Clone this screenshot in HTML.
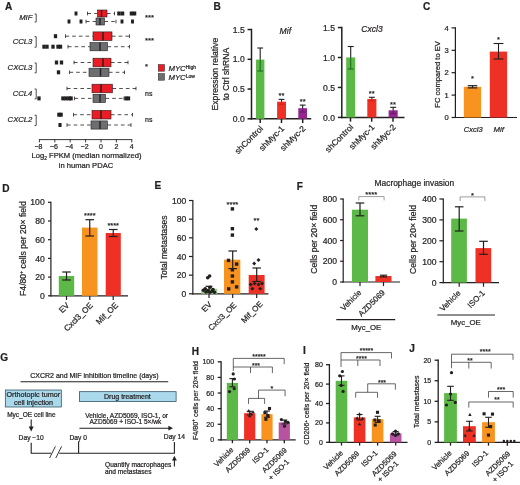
<!DOCTYPE html>
<html lang="en">
<head>
<meta charset="utf-8">
<title>Figure</title>
<style>
html,body{margin:0;padding:0;background:#fff;}
body{width:520px;height:485px;overflow:hidden;}
svg{display:block;font-family:"Liberation Sans",sans-serif;}
text{stroke:#231f20;stroke-width:0.22px;}
</style>
</head>
<body>
<svg width="520" height="485" viewBox="0 0 520 485">
<rect x="0" y="0" width="520" height="485" fill="#ffffff"/>
<g id="panelA">
<text x="5.10" y="9.75" font-size="10.1" font-weight="bold" fill="#231f20">A</text>
<text x="32.40" y="20.20" font-size="7.7" text-anchor="end" font-style="italic" fill="#231f20">MIF</text>
<polyline points="34.60,14.00 36.20,14.00 36.20,22.00 34.60,22.00" fill="none" stroke="#231f20" stroke-width="0.8"/>
<line x1="87.50" y1="13.50" x2="97.50" y2="13.50" stroke="#231f20" stroke-width="0.8" stroke-dasharray="3.6 3.1"/>
<line x1="107.00" y1="13.50" x2="114.50" y2="13.50" stroke="#231f20" stroke-width="0.8" stroke-dasharray="3.6 3.1"/>
<line x1="87.50" y1="11.70" x2="87.50" y2="15.30" stroke="#231f20" stroke-width="0.8"/>
<line x1="114.50" y1="11.70" x2="114.50" y2="15.30" stroke="#231f20" stroke-width="0.8"/>
<rect x="97.50" y="10.00" width="9.50" height="7.00" fill="#ed1c24" stroke="#231f20" stroke-width="0.6"/>
<line x1="101.50" y1="10.00" x2="101.50" y2="17.00" stroke="#231f20" stroke-width="1.4"/>
<rect x="74.55" y="11.50" width="2.90" height="4.00" fill="#231f20"/>
<rect x="117.25" y="11.50" width="3.50" height="4.00" fill="#231f20"/>
<rect x="120.75" y="11.50" width="3.50" height="4.00" fill="#231f20"/>
<rect x="129.75" y="11.50" width="3.50" height="4.00" fill="#231f20"/>
<rect x="132.75" y="11.50" width="3.50" height="4.00" fill="#231f20"/>
<line x1="86.00" y1="21.50" x2="96.00" y2="21.50" stroke="#231f20" stroke-width="0.8" stroke-dasharray="3.6 3.1"/>
<line x1="104.50" y1="21.50" x2="116.00" y2="21.50" stroke="#231f20" stroke-width="0.8" stroke-dasharray="3.6 3.1"/>
<line x1="86.00" y1="19.70" x2="86.00" y2="23.30" stroke="#231f20" stroke-width="0.8"/>
<line x1="116.00" y1="19.70" x2="116.00" y2="23.30" stroke="#231f20" stroke-width="0.8"/>
<rect x="96.00" y="18.00" width="8.50" height="7.00" fill="#6d6e71" stroke="#231f20" stroke-width="0.6"/>
<line x1="100.00" y1="18.00" x2="100.00" y2="25.00" stroke="#231f20" stroke-width="1.4"/>
<rect x="67.55" y="19.50" width="2.90" height="4.00" fill="#231f20"/>
<rect x="79.55" y="19.50" width="2.90" height="4.00" fill="#231f20"/>
<rect x="120.55" y="19.50" width="2.90" height="4.00" fill="#231f20"/>
<rect x="131.05" y="19.50" width="2.90" height="4.00" fill="#231f20"/>
<text x="32.40" y="43.70" font-size="7.7" text-anchor="end" font-style="italic" fill="#231f20">CCL3</text>
<polyline points="34.60,36.70 36.20,36.70 36.20,47.20 34.60,47.20" fill="none" stroke="#231f20" stroke-width="0.8"/>
<line x1="65.50" y1="36.20" x2="93.00" y2="36.20" stroke="#231f20" stroke-width="0.8" stroke-dasharray="3.6 3.1"/>
<line x1="112.00" y1="36.20" x2="129.50" y2="36.20" stroke="#231f20" stroke-width="0.8" stroke-dasharray="3.6 3.1"/>
<line x1="65.50" y1="34.40" x2="65.50" y2="38.00" stroke="#231f20" stroke-width="0.8"/>
<line x1="129.50" y1="34.40" x2="129.50" y2="38.00" stroke="#231f20" stroke-width="0.8"/>
<rect x="93.00" y="31.90" width="19.00" height="8.60" fill="#ed1c24" stroke="#231f20" stroke-width="0.6"/>
<line x1="103.00" y1="31.90" x2="103.00" y2="40.50" stroke="#231f20" stroke-width="1.4"/>
<rect x="53.85" y="34.20" width="3.30" height="4.00" fill="#231f20"/>
<line x1="68.00" y1="46.70" x2="90.00" y2="46.70" stroke="#231f20" stroke-width="0.8" stroke-dasharray="3.6 3.1"/>
<line x1="107.50" y1="46.70" x2="129.50" y2="46.70" stroke="#231f20" stroke-width="0.8" stroke-dasharray="3.6 3.1"/>
<line x1="68.00" y1="44.90" x2="68.00" y2="48.50" stroke="#231f20" stroke-width="0.8"/>
<line x1="129.50" y1="44.90" x2="129.50" y2="48.50" stroke="#231f20" stroke-width="0.8"/>
<rect x="90.00" y="42.60" width="17.50" height="8.20" fill="#6d6e71" stroke="#231f20" stroke-width="0.6"/>
<line x1="100.00" y1="42.60" x2="100.00" y2="50.80" stroke="#231f20" stroke-width="1.4"/>
<rect x="42.35" y="44.70" width="3.30" height="4.00" fill="#231f20"/>
<rect x="45.35" y="44.70" width="3.30" height="4.00" fill="#231f20"/>
<rect x="51.35" y="44.70" width="3.30" height="4.00" fill="#231f20"/>
<rect x="56.35" y="44.70" width="3.30" height="4.00" fill="#231f20"/>
<rect x="58.85" y="44.70" width="3.30" height="4.00" fill="#231f20"/>
<text x="32.40" y="69.70" font-size="7.7" text-anchor="end" font-style="italic" fill="#231f20">CXCL3</text>
<polyline points="34.60,63.00 36.20,63.00 36.20,72.80 34.60,72.80" fill="none" stroke="#231f20" stroke-width="0.8"/>
<line x1="74.00" y1="62.50" x2="93.00" y2="62.50" stroke="#231f20" stroke-width="0.8" stroke-dasharray="3.6 3.1"/>
<line x1="111.00" y1="62.50" x2="128.00" y2="62.50" stroke="#231f20" stroke-width="0.8" stroke-dasharray="3.6 3.1"/>
<line x1="74.00" y1="60.70" x2="74.00" y2="64.30" stroke="#231f20" stroke-width="0.8"/>
<line x1="128.00" y1="60.70" x2="128.00" y2="64.30" stroke="#231f20" stroke-width="0.8"/>
<rect x="93.00" y="58.20" width="18.00" height="8.60" fill="#ed1c24" stroke="#231f20" stroke-width="0.6"/>
<line x1="103.00" y1="58.20" x2="103.00" y2="66.80" stroke="#231f20" stroke-width="1.4"/>
<rect x="54.85" y="60.50" width="3.30" height="4.00" fill="#231f20"/>
<rect x="59.85" y="60.50" width="3.30" height="4.00" fill="#231f20"/>
<line x1="69.50" y1="72.30" x2="89.00" y2="72.30" stroke="#231f20" stroke-width="0.8" stroke-dasharray="3.6 3.1"/>
<line x1="109.00" y1="72.30" x2="124.50" y2="72.30" stroke="#231f20" stroke-width="0.8" stroke-dasharray="3.6 3.1"/>
<line x1="69.50" y1="70.50" x2="69.50" y2="74.10" stroke="#231f20" stroke-width="0.8"/>
<line x1="124.50" y1="70.50" x2="124.50" y2="74.10" stroke="#231f20" stroke-width="0.8"/>
<rect x="89.00" y="68.20" width="20.00" height="8.20" fill="#6d6e71" stroke="#231f20" stroke-width="0.6"/>
<line x1="100.50" y1="68.20" x2="100.50" y2="76.40" stroke="#231f20" stroke-width="1.4"/>
<rect x="56.85" y="70.30" width="3.30" height="4.00" fill="#231f20"/>
<text x="32.40" y="96.20" font-size="7.7" text-anchor="end" font-style="italic" fill="#231f20">CCL4</text>
<polyline points="34.60,89.00 36.20,89.00 36.20,98.90 34.60,98.90" fill="none" stroke="#231f20" stroke-width="0.8"/>
<line x1="67.00" y1="88.50" x2="92.00" y2="88.50" stroke="#231f20" stroke-width="0.8" stroke-dasharray="3.6 3.1"/>
<line x1="112.50" y1="88.50" x2="136.00" y2="88.50" stroke="#231f20" stroke-width="0.8" stroke-dasharray="3.6 3.1"/>
<line x1="67.00" y1="86.70" x2="67.00" y2="90.30" stroke="#231f20" stroke-width="0.8"/>
<line x1="136.00" y1="86.70" x2="136.00" y2="90.30" stroke="#231f20" stroke-width="0.8"/>
<rect x="92.00" y="84.20" width="20.50" height="8.60" fill="#ed1c24" stroke="#231f20" stroke-width="0.6"/>
<line x1="101.00" y1="84.20" x2="101.00" y2="92.80" stroke="#231f20" stroke-width="1.4"/>
<line x1="74.50" y1="98.40" x2="93.00" y2="98.40" stroke="#231f20" stroke-width="0.8" stroke-dasharray="3.6 3.1"/>
<line x1="105.50" y1="98.40" x2="124.00" y2="98.40" stroke="#231f20" stroke-width="0.8" stroke-dasharray="3.6 3.1"/>
<line x1="74.50" y1="96.60" x2="74.50" y2="100.20" stroke="#231f20" stroke-width="0.8"/>
<line x1="124.00" y1="96.60" x2="124.00" y2="100.20" stroke="#231f20" stroke-width="0.8"/>
<rect x="93.00" y="94.30" width="12.50" height="8.20" fill="#6d6e71" stroke="#231f20" stroke-width="0.6"/>
<line x1="100.00" y1="94.30" x2="100.00" y2="102.50" stroke="#231f20" stroke-width="1.4"/>
<rect x="37.35" y="96.40" width="3.30" height="4.00" fill="#231f20"/>
<rect x="61.25" y="96.40" width="3.50" height="4.00" fill="#231f20"/>
<rect x="64.25" y="96.40" width="3.50" height="4.00" fill="#231f20"/>
<rect x="67.25" y="96.40" width="3.50" height="4.00" fill="#231f20"/>
<rect x="69.25" y="96.40" width="3.50" height="4.00" fill="#231f20"/>
<rect x="124.35" y="96.40" width="3.30" height="4.00" fill="#231f20"/>
<rect x="126.85" y="96.40" width="3.30" height="4.00" fill="#231f20"/>
<text x="32.40" y="122.20" font-size="7.7" text-anchor="end" font-style="italic" fill="#231f20">CXCL2</text>
<polyline points="34.60,115.20 36.20,115.20 36.20,125.50 34.60,125.50" fill="none" stroke="#231f20" stroke-width="0.8"/>
<line x1="73.50" y1="114.70" x2="92.00" y2="114.70" stroke="#231f20" stroke-width="0.8" stroke-dasharray="3.6 3.1"/>
<line x1="111.00" y1="114.70" x2="132.50" y2="114.70" stroke="#231f20" stroke-width="0.8" stroke-dasharray="3.6 3.1"/>
<line x1="73.50" y1="112.90" x2="73.50" y2="116.50" stroke="#231f20" stroke-width="0.8"/>
<line x1="132.50" y1="112.90" x2="132.50" y2="116.50" stroke="#231f20" stroke-width="0.8"/>
<rect x="92.00" y="110.40" width="19.00" height="8.60" fill="#ed1c24" stroke="#231f20" stroke-width="0.6"/>
<line x1="101.00" y1="110.40" x2="101.00" y2="119.00" stroke="#231f20" stroke-width="1.4"/>
<rect x="57.25" y="112.70" width="3.50" height="4.00" fill="#231f20"/>
<rect x="59.25" y="112.70" width="3.50" height="4.00" fill="#231f20"/>
<line x1="67.00" y1="125.00" x2="91.00" y2="125.00" stroke="#231f20" stroke-width="0.8" stroke-dasharray="3.6 3.1"/>
<line x1="107.50" y1="125.00" x2="131.00" y2="125.00" stroke="#231f20" stroke-width="0.8" stroke-dasharray="3.6 3.1"/>
<line x1="67.00" y1="123.20" x2="67.00" y2="126.80" stroke="#231f20" stroke-width="0.8"/>
<line x1="131.00" y1="123.20" x2="131.00" y2="126.80" stroke="#231f20" stroke-width="0.8"/>
<rect x="91.00" y="120.90" width="16.50" height="8.20" fill="#6d6e71" stroke="#231f20" stroke-width="0.6"/>
<line x1="100.00" y1="120.90" x2="100.00" y2="129.10" stroke="#231f20" stroke-width="1.4"/>
<rect x="58.45" y="123.00" width="3.10" height="4.00" fill="#231f20"/>
<text x="145.00" y="20.00" font-size="7.8" fill="#231f20">***</text>
<text x="145.00" y="42.60" font-size="7.8" fill="#231f20">***</text>
<text x="145.00" y="69.00" font-size="7.8" fill="#231f20">*</text>
<text x="145.00" y="96.20" font-size="7.0" fill="#231f20">ns</text>
<text x="145.00" y="121.60" font-size="7.0" fill="#231f20">ns</text>
<rect x="158.30" y="64.60" width="6.20" height="6.60" fill="#ed1c24" stroke="#231f20" stroke-width="0.5"/>
<rect x="158.30" y="73.60" width="6.20" height="6.60" fill="#6d6e71" stroke="#231f20" stroke-width="0.5"/>
<text x="168.4" y="71.4" font-size="7.8" font-style="italic" fill="#231f20">MYC<tspan font-size="5.0" font-style="normal" dy="-2.8">High</tspan></text>
<text x="168.4" y="80.4" font-size="7.8" font-style="italic" fill="#231f20">MYC<tspan font-size="5.0" font-style="normal" dy="-2.8">Low</tspan></text>
<line x1="38.95" y1="139.60" x2="132.25" y2="139.60" stroke="#231f20" stroke-width="0.9"/>
<line x1="39.40" y1="139.60" x2="39.40" y2="142.40" stroke="#231f20" stroke-width="0.9"/>
<text x="38.40" y="149.40" font-size="7.0" text-anchor="middle" fill="#231f20">−8</text>
<line x1="54.80" y1="139.60" x2="54.80" y2="142.40" stroke="#231f20" stroke-width="0.9"/>
<text x="53.80" y="149.40" font-size="7.0" text-anchor="middle" fill="#231f20">−6</text>
<line x1="70.20" y1="139.60" x2="70.20" y2="142.40" stroke="#231f20" stroke-width="0.9"/>
<text x="69.20" y="149.40" font-size="7.0" text-anchor="middle" fill="#231f20">−4</text>
<line x1="85.60" y1="139.60" x2="85.60" y2="142.40" stroke="#231f20" stroke-width="0.9"/>
<text x="84.60" y="149.40" font-size="7.0" text-anchor="middle" fill="#231f20">−2</text>
<line x1="101.00" y1="139.60" x2="101.00" y2="142.40" stroke="#231f20" stroke-width="0.9"/>
<text x="101.00" y="149.40" font-size="7.0" text-anchor="middle" fill="#231f20">0</text>
<line x1="116.40" y1="139.60" x2="116.40" y2="142.40" stroke="#231f20" stroke-width="0.9"/>
<text x="116.40" y="149.40" font-size="7.0" text-anchor="middle" fill="#231f20">2</text>
<line x1="131.80" y1="139.60" x2="131.80" y2="142.40" stroke="#231f20" stroke-width="0.9"/>
<text x="131.80" y="149.40" font-size="7.0" text-anchor="middle" fill="#231f20">4</text>
<text x="86.5" y="158.3" font-size="7.6" text-anchor="middle" fill="#231f20">Log<tspan font-size="4.8" dy="1.5">2</tspan><tspan dy="-1.5"> FPKM (median normalized)</tspan></text>
<text x="86.00" y="168.20" font-size="7.6" text-anchor="middle" fill="#231f20">in human PDAC</text>
</g>
<g id="panelB">
<text x="213.40" y="10.15" font-size="10.1" font-weight="bold" fill="#231f20">B</text>
<line x1="251.50" y1="28.80" x2="251.50" y2="119.55" stroke="#231f20" stroke-width="1.5"/>
<line x1="247.55" y1="118.80" x2="251.50" y2="118.80" stroke="#231f20" stroke-width="1.5"/>
<text x="244.75" y="121.90" font-size="8.6" text-anchor="end" fill="#231f20">0.0</text>
<line x1="247.55" y1="89.05" x2="251.50" y2="89.05" stroke="#231f20" stroke-width="1.5"/>
<text x="244.75" y="92.15" font-size="8.6" text-anchor="end" fill="#231f20">0.5</text>
<line x1="247.55" y1="59.30" x2="251.50" y2="59.30" stroke="#231f20" stroke-width="1.5"/>
<text x="244.75" y="62.40" font-size="8.6" text-anchor="end" fill="#231f20">1.0</text>
<line x1="247.55" y1="29.55" x2="251.50" y2="29.55" stroke="#231f20" stroke-width="1.5"/>
<text x="244.75" y="32.65" font-size="8.6" text-anchor="end" fill="#231f20">1.5</text>
<line x1="250.75" y1="118.80" x2="311.20" y2="118.80" stroke="#231f20" stroke-width="1.5"/>
<line x1="260.20" y1="118.80" x2="260.20" y2="123.05" stroke="#231f20" stroke-width="1.5"/>
<line x1="281.50" y1="118.80" x2="281.50" y2="123.05" stroke="#231f20" stroke-width="1.5"/>
<line x1="302.70" y1="118.80" x2="302.70" y2="123.05" stroke="#231f20" stroke-width="1.5"/>
<rect x="256.00" y="59.60" width="8.40" height="59.20" fill="#5cb947"/>
<line x1="260.20" y1="59.60" x2="260.20" y2="71.00" stroke="#1f6b22" stroke-width="1.1"/>
<line x1="257.30" y1="71.00" x2="263.10" y2="71.00" stroke="#1f6b22" stroke-width="1.1"/>
<line x1="260.20" y1="48.00" x2="260.20" y2="59.60" stroke="#231f20" stroke-width="1.1"/>
<line x1="257.30" y1="48.00" x2="263.10" y2="48.00" stroke="#231f20" stroke-width="1.1"/>
<rect x="277.10" y="101.70" width="8.90" height="17.10" fill="#ee3124"/>
<line x1="281.55" y1="101.70" x2="281.55" y2="104.40" stroke="#d3241c" stroke-width="1.1"/>
<line x1="278.65" y1="104.40" x2="284.45" y2="104.40" stroke="#d3241c" stroke-width="1.1"/>
<line x1="281.55" y1="99.40" x2="281.55" y2="101.70" stroke="#231f20" stroke-width="1.1"/>
<line x1="278.65" y1="99.40" x2="284.45" y2="99.40" stroke="#231f20" stroke-width="1.1"/>
<rect x="298.30" y="108.20" width="8.70" height="10.60" fill="#92278f"/>
<line x1="302.65" y1="108.20" x2="302.65" y2="112.00" stroke="#6a1a6e" stroke-width="1.1"/>
<line x1="299.75" y1="112.00" x2="305.55" y2="112.00" stroke="#6a1a6e" stroke-width="1.1"/>
<line x1="302.65" y1="105.10" x2="302.65" y2="108.20" stroke="#231f20" stroke-width="1.1"/>
<line x1="299.75" y1="105.10" x2="305.55" y2="105.10" stroke="#231f20" stroke-width="1.1"/>
<text x="285.30" y="33.70" font-size="8.6" text-anchor="middle" font-style="italic" fill="#231f20">Mif</text>
<text x="281.50" y="98.00" font-size="7.5" text-anchor="middle" fill="#231f20">**</text>
<text x="302.70" y="104.30" font-size="7.5" text-anchor="middle" fill="#231f20">**</text>
<text x="218.40" y="74.10" font-size="8.6" text-anchor="middle" transform="rotate(-90 218.40 74.10)" fill="#231f20">Expression relative</text>
<text x="228.60" y="74.10" font-size="8.6" text-anchor="middle" transform="rotate(-90 228.60 74.10)" fill="#231f20">to Ctrl shRNA</text>
<text x="263.50" y="129.10" font-size="8.4" text-anchor="end" transform="rotate(-45 263.50 129.10)" fill="#231f20">shControl</text>
<text x="284.80" y="129.10" font-size="8.4" text-anchor="end" transform="rotate(-45 284.80 129.10)" fill="#231f20">shMyc-1</text>
<text x="306.00" y="129.10" font-size="8.4" text-anchor="end" transform="rotate(-45 306.00 129.10)" fill="#231f20">shMyc-2</text>
<line x1="341.80" y1="26.80" x2="341.80" y2="118.15" stroke="#231f20" stroke-width="1.5"/>
<line x1="337.85" y1="117.40" x2="341.80" y2="117.40" stroke="#231f20" stroke-width="1.5"/>
<text x="335.05" y="120.50" font-size="8.6" text-anchor="end" fill="#231f20">0.0</text>
<line x1="337.85" y1="87.45" x2="341.80" y2="87.45" stroke="#231f20" stroke-width="1.5"/>
<text x="335.05" y="90.55" font-size="8.6" text-anchor="end" fill="#231f20">0.5</text>
<line x1="337.85" y1="57.50" x2="341.80" y2="57.50" stroke="#231f20" stroke-width="1.5"/>
<text x="335.05" y="60.60" font-size="8.6" text-anchor="end" fill="#231f20">1.0</text>
<line x1="337.85" y1="27.55" x2="341.80" y2="27.55" stroke="#231f20" stroke-width="1.5"/>
<text x="335.05" y="30.65" font-size="8.6" text-anchor="end" fill="#231f20">1.5</text>
<line x1="341.05" y1="117.40" x2="404.50" y2="117.40" stroke="#231f20" stroke-width="1.5"/>
<line x1="350.50" y1="117.40" x2="350.50" y2="121.65" stroke="#231f20" stroke-width="1.5"/>
<line x1="371.70" y1="117.40" x2="371.70" y2="121.65" stroke="#231f20" stroke-width="1.5"/>
<line x1="393.00" y1="117.40" x2="393.00" y2="121.65" stroke="#231f20" stroke-width="1.5"/>
<rect x="346.20" y="57.40" width="9.00" height="60.00" fill="#5cb947"/>
<line x1="350.70" y1="57.40" x2="350.70" y2="69.00" stroke="#1f6b22" stroke-width="1.1"/>
<line x1="347.70" y1="69.00" x2="353.70" y2="69.00" stroke="#1f6b22" stroke-width="1.1"/>
<line x1="350.70" y1="46.50" x2="350.70" y2="57.40" stroke="#231f20" stroke-width="1.1"/>
<line x1="347.70" y1="46.50" x2="353.70" y2="46.50" stroke="#231f20" stroke-width="1.1"/>
<rect x="367.30" y="99.00" width="9.10" height="18.40" fill="#ee3124"/>
<line x1="371.85" y1="99.00" x2="371.85" y2="100.80" stroke="#d3241c" stroke-width="1.1"/>
<line x1="368.85" y1="100.80" x2="374.85" y2="100.80" stroke="#d3241c" stroke-width="1.1"/>
<line x1="371.85" y1="97.30" x2="371.85" y2="99.00" stroke="#231f20" stroke-width="1.1"/>
<line x1="368.85" y1="97.30" x2="374.85" y2="97.30" stroke="#231f20" stroke-width="1.1"/>
<rect x="388.60" y="110.30" width="9.10" height="7.10" fill="#92278f"/>
<line x1="393.15" y1="110.30" x2="393.15" y2="113.50" stroke="#6a1a6e" stroke-width="1.1"/>
<line x1="390.15" y1="113.50" x2="396.15" y2="113.50" stroke="#6a1a6e" stroke-width="1.1"/>
<line x1="393.15" y1="107.30" x2="393.15" y2="110.30" stroke="#231f20" stroke-width="1.1"/>
<line x1="390.15" y1="107.30" x2="396.15" y2="107.30" stroke="#231f20" stroke-width="1.1"/>
<text x="372.00" y="32.30" font-size="8.5" text-anchor="middle" font-style="italic" fill="#231f20">Cxcl3</text>
<text x="371.70" y="96.00" font-size="7.5" text-anchor="middle" fill="#231f20">**</text>
<text x="393.00" y="107.30" font-size="7.5" text-anchor="middle" fill="#231f20">**</text>
<text x="353.80" y="127.70" font-size="8.4" text-anchor="end" transform="rotate(-45 353.80 127.70)" fill="#231f20">shControl</text>
<text x="375.00" y="127.70" font-size="8.4" text-anchor="end" transform="rotate(-45 375.00 127.70)" fill="#231f20">shMyc-1</text>
<text x="396.30" y="127.70" font-size="8.4" text-anchor="end" transform="rotate(-45 396.30 127.70)" fill="#231f20">shMyc-2</text>
</g>
<g id="panelC">
<text x="422.90" y="10.45" font-size="10.1" font-weight="bold" fill="#231f20">C</text>
<line x1="455.40" y1="27.30" x2="455.40" y2="118.10" stroke="#231f20" stroke-width="1.2"/>
<line x1="451.60" y1="117.50" x2="455.40" y2="117.50" stroke="#231f20" stroke-width="1.2"/>
<text x="448.80" y="120.24" font-size="7.6" text-anchor="end" fill="#231f20">0</text>
<line x1="451.60" y1="95.10" x2="455.40" y2="95.10" stroke="#231f20" stroke-width="1.2"/>
<text x="448.80" y="97.84" font-size="7.6" text-anchor="end" fill="#231f20">1</text>
<line x1="451.60" y1="72.70" x2="455.40" y2="72.70" stroke="#231f20" stroke-width="1.2"/>
<text x="448.80" y="75.44" font-size="7.6" text-anchor="end" fill="#231f20">2</text>
<line x1="451.60" y1="50.30" x2="455.40" y2="50.30" stroke="#231f20" stroke-width="1.2"/>
<text x="448.80" y="53.04" font-size="7.6" text-anchor="end" fill="#231f20">3</text>
<line x1="451.60" y1="27.90" x2="455.40" y2="27.90" stroke="#231f20" stroke-width="1.2"/>
<text x="448.80" y="30.64" font-size="7.6" text-anchor="end" fill="#231f20">4</text>
<line x1="454.80" y1="117.50" x2="517.00" y2="117.50" stroke="#231f20" stroke-width="1.2"/>
<rect x="463.80" y="86.80" width="17.30" height="30.70" fill="#f7931e"/>
<line x1="472.50" y1="85.70" x2="472.50" y2="87.90" stroke="#231f20" stroke-width="1.2"/>
<line x1="467.70" y1="85.70" x2="477.30" y2="85.70" stroke="#231f20" stroke-width="1.2"/>
<line x1="467.70" y1="87.90" x2="477.30" y2="87.90" stroke="#231f20" stroke-width="1.2"/>
<rect x="489.80" y="51.60" width="17.30" height="65.90" fill="#ee3124"/>
<line x1="498.50" y1="43.50" x2="498.50" y2="59.00" stroke="#231f20" stroke-width="1.1"/>
<line x1="493.60" y1="43.50" x2="503.40" y2="43.50" stroke="#231f20" stroke-width="1.1"/>
<line x1="493.60" y1="59.00" x2="503.40" y2="59.00" stroke="#231f20" stroke-width="1.1"/>
<text x="472.50" y="80.60" font-size="7.5" text-anchor="middle" fill="#231f20">*</text>
<text x="498.50" y="42.20" font-size="7.5" text-anchor="middle" fill="#231f20">*</text>
<text x="473.20" y="132.00" font-size="7.5" text-anchor="middle" font-style="italic" fill="#231f20">Cxcl3</text>
<text x="498.80" y="132.00" font-size="7.8" text-anchor="middle" font-style="italic" fill="#231f20">Mif</text>
<text x="440.00" y="74.40" font-size="7.6" text-anchor="middle" transform="rotate(-90 440.00 74.40)" fill="#231f20">FC compared to EV</text>
</g>
<g id="panelD">
<text x="2.20" y="191.65" font-size="10.1" font-weight="bold" fill="#231f20">D</text>
<line x1="50.90" y1="201.70" x2="50.90" y2="296.40" stroke="#231f20" stroke-width="1.2"/>
<line x1="48.00" y1="295.80" x2="50.90" y2="295.80" stroke="#231f20" stroke-width="1.2"/>
<text x="44.70" y="298.90" font-size="8.6" text-anchor="end" fill="#231f20">0</text>
<line x1="48.00" y1="277.10" x2="50.90" y2="277.10" stroke="#231f20" stroke-width="1.2"/>
<text x="44.70" y="280.20" font-size="8.6" text-anchor="end" fill="#231f20">20</text>
<line x1="48.00" y1="258.40" x2="50.90" y2="258.40" stroke="#231f20" stroke-width="1.2"/>
<text x="44.70" y="261.50" font-size="8.6" text-anchor="end" fill="#231f20">40</text>
<line x1="48.00" y1="239.70" x2="50.90" y2="239.70" stroke="#231f20" stroke-width="1.2"/>
<text x="44.70" y="242.80" font-size="8.6" text-anchor="end" fill="#231f20">60</text>
<line x1="48.00" y1="221.00" x2="50.90" y2="221.00" stroke="#231f20" stroke-width="1.2"/>
<text x="44.70" y="224.10" font-size="8.6" text-anchor="end" fill="#231f20">80</text>
<line x1="48.00" y1="202.30" x2="50.90" y2="202.30" stroke="#231f20" stroke-width="1.2"/>
<text x="44.70" y="205.40" font-size="8.6" text-anchor="end" fill="#231f20">100</text>
<line x1="50.30" y1="295.80" x2="128.00" y2="295.80" stroke="#231f20" stroke-width="1.2"/>
<line x1="66.50" y1="295.80" x2="66.50" y2="299.90" stroke="#231f20" stroke-width="1.2"/>
<line x1="89.80" y1="295.80" x2="89.80" y2="299.90" stroke="#231f20" stroke-width="1.2"/>
<line x1="113.20" y1="295.80" x2="113.20" y2="299.90" stroke="#231f20" stroke-width="1.2"/>
<rect x="58.80" y="276.00" width="15.40" height="19.80" fill="#5cb947"/>
<line x1="66.50" y1="272.00" x2="66.50" y2="280.00" stroke="#231f20" stroke-width="1.2"/>
<line x1="62.20" y1="272.00" x2="70.80" y2="272.00" stroke="#231f20" stroke-width="1.2"/>
<line x1="62.20" y1="280.00" x2="70.80" y2="280.00" stroke="#231f20" stroke-width="1.2"/>
<rect x="82.00" y="227.60" width="15.50" height="68.20" fill="#f7931e"/>
<line x1="89.75" y1="219.70" x2="89.75" y2="236.00" stroke="#231f20" stroke-width="1.2"/>
<line x1="85.45" y1="219.70" x2="94.05" y2="219.70" stroke="#231f20" stroke-width="1.2"/>
<line x1="85.45" y1="236.00" x2="94.05" y2="236.00" stroke="#231f20" stroke-width="1.2"/>
<rect x="105.70" y="233.00" width="15.10" height="62.80" fill="#ee3124"/>
<line x1="113.25" y1="229.50" x2="113.25" y2="236.50" stroke="#231f20" stroke-width="1.2"/>
<line x1="108.95" y1="229.50" x2="117.55" y2="229.50" stroke="#231f20" stroke-width="1.2"/>
<line x1="108.95" y1="236.50" x2="117.55" y2="236.50" stroke="#231f20" stroke-width="1.2"/>
<text x="89.80" y="218.20" font-size="7.4" text-anchor="middle" fill="#231f20">****</text>
<text x="113.20" y="228.20" font-size="7.4" text-anchor="middle" fill="#231f20">****</text>
<text x="25.80" y="248.60" font-size="8.6" text-anchor="middle" transform="rotate(-90 25.80 248.60)" fill="#231f20">F4/80<tspan font-size="5.33" dy="-3.10">+</tspan><tspan dy="3.10"> cells per 20× field</tspan></text>
<text x="69.90" y="305.80" font-size="8.2" text-anchor="end" transform="rotate(-45 69.90 305.80)" fill="#231f20">EV</text>
<text x="93.40" y="305.80" font-size="8.2" text-anchor="end" transform="rotate(-45 93.40 305.80)" fill="#231f20">Cxcl3_OE</text>
<text x="118.60" y="305.80" font-size="8.2" text-anchor="end" transform="rotate(-45 118.60 305.80)" fill="#231f20">Mif_OE</text>
</g>
<g id="panelE">
<text x="154.40" y="189.05" font-size="10.1" font-weight="bold" fill="#231f20">E</text>
<line x1="192.85" y1="199.90" x2="192.85" y2="294.40" stroke="#231f20" stroke-width="1.2"/>
<line x1="188.95" y1="293.80" x2="192.85" y2="293.80" stroke="#231f20" stroke-width="1.2"/>
<text x="186.15" y="296.86" font-size="8.5" text-anchor="end" fill="#231f20">0</text>
<line x1="188.95" y1="275.14" x2="192.85" y2="275.14" stroke="#231f20" stroke-width="1.2"/>
<text x="186.15" y="278.20" font-size="8.5" text-anchor="end" fill="#231f20">20</text>
<line x1="188.95" y1="256.48" x2="192.85" y2="256.48" stroke="#231f20" stroke-width="1.2"/>
<text x="186.15" y="259.54" font-size="8.5" text-anchor="end" fill="#231f20">40</text>
<line x1="188.95" y1="237.82" x2="192.85" y2="237.82" stroke="#231f20" stroke-width="1.2"/>
<text x="186.15" y="240.88" font-size="8.5" text-anchor="end" fill="#231f20">60</text>
<line x1="188.95" y1="219.16" x2="192.85" y2="219.16" stroke="#231f20" stroke-width="1.2"/>
<text x="186.15" y="222.22" font-size="8.5" text-anchor="end" fill="#231f20">80</text>
<line x1="188.95" y1="200.50" x2="192.85" y2="200.50" stroke="#231f20" stroke-width="1.2"/>
<text x="186.15" y="203.56" font-size="8.5" text-anchor="end" fill="#231f20">100</text>
<line x1="192.25" y1="293.80" x2="268.50" y2="293.80" stroke="#231f20" stroke-width="1.2"/>
<line x1="209.00" y1="293.80" x2="209.00" y2="297.90" stroke="#231f20" stroke-width="1.2"/>
<line x1="232.70" y1="293.80" x2="232.70" y2="297.90" stroke="#231f20" stroke-width="1.2"/>
<line x1="256.70" y1="293.80" x2="256.70" y2="297.90" stroke="#231f20" stroke-width="1.2"/>
<rect x="201.20" y="288.80" width="15.90" height="5.00" fill="#8fce7e"/>
<rect x="224.00" y="259.70" width="16.30" height="34.10" fill="#f7931e"/>
<rect x="248.70" y="275.00" width="15.90" height="18.80" fill="#ee3124"/>
<line x1="209.00" y1="286.30" x2="209.00" y2="292.00" stroke="#231f20" stroke-width="1.2"/>
<line x1="205.60" y1="286.30" x2="212.40" y2="286.30" stroke="#231f20" stroke-width="1.2"/>
<line x1="205.60" y1="292.00" x2="212.40" y2="292.00" stroke="#231f20" stroke-width="1.2"/>
<line x1="232.70" y1="251.00" x2="232.70" y2="268.60" stroke="#231f20" stroke-width="1.2"/>
<line x1="228.40" y1="251.00" x2="237.00" y2="251.00" stroke="#231f20" stroke-width="1.2"/>
<line x1="228.40" y1="268.60" x2="237.00" y2="268.60" stroke="#231f20" stroke-width="1.2"/>
<line x1="256.70" y1="268.00" x2="256.70" y2="281.50" stroke="#231f20" stroke-width="1.2"/>
<line x1="252.40" y1="268.00" x2="261.00" y2="268.00" stroke="#231f20" stroke-width="1.2"/>
<line x1="252.40" y1="281.50" x2="261.00" y2="281.50" stroke="#231f20" stroke-width="1.2"/>
<circle cx="207.70" cy="277.70" r="1.8" fill="#231f20"/>
<circle cx="209.60" cy="276.00" r="1.8" fill="#231f20"/>
<circle cx="210.10" cy="287.30" r="1.8" fill="#231f20"/>
<circle cx="203.50" cy="290.30" r="1.8" fill="#231f20"/>
<circle cx="206.00" cy="292.00" r="1.8" fill="#231f20"/>
<circle cx="207.80" cy="290.50" r="1.8" fill="#231f20"/>
<circle cx="209.80" cy="292.20" r="1.8" fill="#231f20"/>
<circle cx="212.30" cy="291.00" r="1.8" fill="#231f20"/>
<circle cx="214.50" cy="292.30" r="1.8" fill="#231f20"/>
<circle cx="213.00" cy="289.50" r="1.8" fill="#231f20"/>
<circle cx="205.20" cy="288.80" r="1.8" fill="#231f20"/>
<rect x="230.70" y="207.20" width="3.4" height="3.4" fill="#231f20"/>
<rect x="230.70" y="227.00" width="3.4" height="3.4" fill="#231f20"/>
<rect x="230.70" y="233.40" width="3.4" height="3.4" fill="#231f20"/>
<rect x="226.80" y="258.70" width="3.4" height="3.4" fill="#231f20"/>
<rect x="234.90" y="262.40" width="3.4" height="3.4" fill="#231f20"/>
<rect x="230.70" y="268.10" width="3.4" height="3.4" fill="#231f20"/>
<rect x="230.70" y="274.30" width="3.4" height="3.4" fill="#231f20"/>
<rect x="230.70" y="280.20" width="3.4" height="3.4" fill="#231f20"/>
<rect x="227.00" y="287.20" width="3.4" height="3.4" fill="#231f20"/>
<rect x="234.90" y="285.20" width="3.4" height="3.4" fill="#231f20"/>
<polygon points="256.30,227.00 258.30,229.00 256.30,231.00 254.30,229.00" fill="#231f20"/>
<polygon points="258.50,258.00 260.50,260.00 258.50,262.00 256.50,260.00" fill="#231f20"/>
<polygon points="254.20,261.50 256.20,263.50 254.20,265.50 252.20,263.50" fill="#231f20"/>
<polygon points="250.70,282.50 252.70,284.50 250.70,286.50 248.70,284.50" fill="#231f20"/>
<polygon points="254.50,281.50 256.50,283.50 254.50,285.50 252.50,283.50" fill="#231f20"/>
<polygon points="258.50,282.50 260.50,284.50 258.50,286.50 256.50,284.50" fill="#231f20"/>
<polygon points="262.00,281.50 264.00,283.50 262.00,285.50 260.00,283.50" fill="#231f20"/>
<polygon points="252.40,286.80 254.40,288.80 252.40,290.80 250.40,288.80" fill="#231f20"/>
<polygon points="260.20,286.80 262.20,288.80 260.20,290.80 258.20,288.80" fill="#231f20"/>
<text x="232.40" y="207.00" font-size="7.6" text-anchor="middle" fill="#231f20">****</text>
<text x="256.50" y="222.60" font-size="7.6" text-anchor="middle" fill="#231f20">**</text>
<text x="167.40" y="247.40" font-size="8.5" text-anchor="middle" transform="rotate(-90 167.40 247.40)" fill="#231f20">Total metastases</text>
<text x="212.20" y="305.00" font-size="8.0" text-anchor="end" transform="rotate(-45 212.20 305.00)" fill="#231f20">EV</text>
<text x="237.10" y="305.60" font-size="8.0" text-anchor="end" transform="rotate(-45 237.10 305.60)" fill="#231f20">Cxcl3_OE</text>
<text x="263.30" y="304.60" font-size="8.0" text-anchor="end" transform="rotate(-45 263.30 304.60)" fill="#231f20">Mif_OE</text>
</g>
<g id="panelF">
<text x="296.70" y="189.95" font-size="10.1" font-weight="bold" fill="#231f20">F</text>
<text x="414.40" y="185.90" font-size="8.4" text-anchor="middle" fill="#231f20">Macrophage invasion</text>
<line x1="343.20" y1="198.40" x2="343.20" y2="282.60" stroke="#231f20" stroke-width="1.2"/>
<line x1="340.10" y1="282.00" x2="343.20" y2="282.00" stroke="#231f20" stroke-width="1.2"/>
<text x="337.10" y="285.10" font-size="8.6" text-anchor="end" fill="#231f20">0</text>
<line x1="340.10" y1="261.25" x2="343.20" y2="261.25" stroke="#231f20" stroke-width="1.2"/>
<text x="337.10" y="264.35" font-size="8.6" text-anchor="end" fill="#231f20">200</text>
<line x1="340.10" y1="240.50" x2="343.20" y2="240.50" stroke="#231f20" stroke-width="1.2"/>
<text x="337.10" y="243.60" font-size="8.6" text-anchor="end" fill="#231f20">400</text>
<line x1="340.10" y1="219.75" x2="343.20" y2="219.75" stroke="#231f20" stroke-width="1.2"/>
<text x="337.10" y="222.85" font-size="8.6" text-anchor="end" fill="#231f20">600</text>
<line x1="340.10" y1="199.00" x2="343.20" y2="199.00" stroke="#231f20" stroke-width="1.2"/>
<text x="337.10" y="202.10" font-size="8.6" text-anchor="end" fill="#231f20">800</text>
<line x1="342.60" y1="282.00" x2="400.00" y2="282.00" stroke="#231f20" stroke-width="1.2"/>
<line x1="360.00" y1="282.00" x2="360.00" y2="286.10" stroke="#231f20" stroke-width="1.2"/>
<line x1="383.50" y1="282.00" x2="383.50" y2="286.10" stroke="#231f20" stroke-width="1.2"/>
<rect x="351.90" y="209.70" width="16.10" height="72.30" fill="#5cb947"/>
<line x1="360.00" y1="203.00" x2="360.00" y2="215.80" stroke="#231f20" stroke-width="1.2"/>
<line x1="355.70" y1="203.00" x2="364.30" y2="203.00" stroke="#231f20" stroke-width="1.2"/>
<line x1="355.70" y1="215.80" x2="364.30" y2="215.80" stroke="#231f20" stroke-width="1.2"/>
<rect x="375.40" y="276.00" width="16.10" height="6.00" fill="#ee3124"/>
<line x1="383.50" y1="275.20" x2="383.50" y2="276.90" stroke="#231f20" stroke-width="1.2"/>
<line x1="379.90" y1="275.20" x2="387.10" y2="275.20" stroke="#231f20" stroke-width="1.2"/>
<line x1="379.90" y1="276.90" x2="387.10" y2="276.90" stroke="#231f20" stroke-width="1.2"/>
<polyline points="358.80,200.40 358.80,196.60 384.10,196.60 384.10,200.40" fill="none" stroke="#58595b" stroke-width="0.6"/>
<text x="371.20" y="197.00" font-size="7.6" text-anchor="middle" fill="#231f20">****</text>
<text x="317.00" y="239.20" font-size="8.6" text-anchor="middle" transform="rotate(-90 317.00 239.20)" fill="#231f20">Cells per 20× field</text>
<text x="362.00" y="293.00" font-size="8.0" text-anchor="end" transform="rotate(-45 362.00 293.00)" fill="#231f20">Vehicle</text>
<text x="385.50" y="293.00" font-size="8.0" text-anchor="end" transform="rotate(-45 385.50 293.00)" fill="#231f20">AZD5069</text>
<line x1="336.30" y1="319.60" x2="395.20" y2="319.60" stroke="#231f20" stroke-width="1.2"/>
<text x="366.30" y="330.20" font-size="7.8" text-anchor="middle" fill="#231f20">Myc_OE</text>
<line x1="443.30" y1="198.40" x2="443.30" y2="283.20" stroke="#231f20" stroke-width="1.2"/>
<line x1="439.40" y1="282.60" x2="443.30" y2="282.60" stroke="#231f20" stroke-width="1.2"/>
<text x="436.60" y="285.70" font-size="8.6" text-anchor="end" fill="#231f20">0</text>
<line x1="439.40" y1="261.70" x2="443.30" y2="261.70" stroke="#231f20" stroke-width="1.2"/>
<text x="436.60" y="264.80" font-size="8.6" text-anchor="end" fill="#231f20">100</text>
<line x1="439.40" y1="240.80" x2="443.30" y2="240.80" stroke="#231f20" stroke-width="1.2"/>
<text x="436.60" y="243.90" font-size="8.6" text-anchor="end" fill="#231f20">200</text>
<line x1="439.40" y1="219.90" x2="443.30" y2="219.90" stroke="#231f20" stroke-width="1.2"/>
<text x="436.60" y="223.00" font-size="8.6" text-anchor="end" fill="#231f20">300</text>
<line x1="439.40" y1="199.00" x2="443.30" y2="199.00" stroke="#231f20" stroke-width="1.2"/>
<text x="436.60" y="202.10" font-size="8.6" text-anchor="end" fill="#231f20">400</text>
<line x1="442.70" y1="282.60" x2="499.00" y2="282.60" stroke="#231f20" stroke-width="1.2"/>
<line x1="459.20" y1="282.60" x2="459.20" y2="286.70" stroke="#231f20" stroke-width="1.2"/>
<line x1="483.50" y1="282.60" x2="483.50" y2="286.70" stroke="#231f20" stroke-width="1.2"/>
<rect x="451.20" y="218.60" width="15.70" height="64.00" fill="#5cb947"/>
<line x1="459.20" y1="206.80" x2="459.20" y2="231.00" stroke="#231f20" stroke-width="1.2"/>
<line x1="454.90" y1="206.80" x2="463.50" y2="206.80" stroke="#231f20" stroke-width="1.2"/>
<line x1="454.90" y1="231.00" x2="463.50" y2="231.00" stroke="#231f20" stroke-width="1.2"/>
<rect x="475.50" y="248.10" width="15.70" height="34.50" fill="#ee3124"/>
<line x1="483.50" y1="241.30" x2="483.50" y2="254.30" stroke="#231f20" stroke-width="1.2"/>
<line x1="479.20" y1="241.30" x2="487.80" y2="241.30" stroke="#231f20" stroke-width="1.2"/>
<line x1="479.20" y1="254.30" x2="487.80" y2="254.30" stroke="#231f20" stroke-width="1.2"/>
<polyline points="460.10,201.00 460.10,196.90 484.90,196.90 484.90,201.00" fill="none" stroke="#58595b" stroke-width="0.6"/>
<text x="472.50" y="197.60" font-size="7.6" text-anchor="middle" fill="#231f20">*</text>
<text x="416.40" y="239.40" font-size="8.6" text-anchor="middle" transform="rotate(-90 416.40 239.40)" fill="#231f20">Cells per 20× field</text>
<text x="461.20" y="293.60" font-size="8.0" text-anchor="end" transform="rotate(-45 461.20 293.60)" fill="#231f20">Vehicle</text>
<text x="485.50" y="293.60" font-size="8.0" text-anchor="end" transform="rotate(-45 485.50 293.60)" fill="#231f20">ISO-1</text>
<line x1="437.30" y1="315.00" x2="495.00" y2="315.00" stroke="#231f20" stroke-width="1.2"/>
<text x="465.80" y="324.60" font-size="7.8" text-anchor="middle" fill="#231f20">Myc_OE</text>
</g>
<g id="panelG">
<text x="0.20" y="360.75" font-size="10.1" font-weight="bold" fill="#231f20">G</text>
<text x="94.40" y="378.00" font-size="7.0" text-anchor="middle" fill="#231f20">CXCR2 and MIF inhibition timeline (days)</text>
<line x1="20.50" y1="381.80" x2="168.20" y2="381.80" stroke="#231f20" stroke-width="1.1"/>
<rect x="5.30" y="390.00" width="56.00" height="17.00" fill="#a9d9ea" stroke="#1f4254" stroke-width="0.7"/>
<text x="33.30" y="396.50" font-size="7.2" text-anchor="middle" fill="#231f20">Orthotopic tumor</text>
<text x="33.50" y="405.30" font-size="7.2" text-anchor="middle" fill="#231f20">cell injection</text>
<rect x="79.40" y="391.70" width="96.70" height="9.80" fill="#a9d9ea" stroke="#1f4254" stroke-width="0.7"/>
<text x="127.40" y="399.30" font-size="7.0" text-anchor="middle" fill="#231f20">Drug treatment</text>
<text x="7.20" y="416.70" font-size="6.5" fill="#231f20">Myc_OE cell line</text>
<line x1="31.20" y1="419.60" x2="31.20" y2="428.00" stroke="#231f20" stroke-width="1.1"/>
<polygon points="28.7,426.4 33.7,426.4 31.2,431.4" fill="#231f20"/>
<text x="18.60" y="439.80" font-size="6.7" fill="#231f20">Day −10</text>
<text x="69.40" y="439.80" font-size="6.7" fill="#231f20">Day 0</text>
<text x="163.80" y="439.40" font-size="6.7" fill="#231f20">Day 14</text>
<polyline points="31.20,442.70 31.20,453.30 51.20,453.30" fill="none" stroke="#231f20" stroke-width="1.1"/>
<polyline points="59.20,453.30 174.40,453.30 174.40,442.00" fill="none" stroke="#231f20" stroke-width="1.1"/>
<line x1="78.60" y1="441.80" x2="78.60" y2="453.30" stroke="#231f20" stroke-width="1.1"/>
<line x1="49.60" y1="458.00" x2="55.40" y2="446.40" stroke="#231f20" stroke-width="0.9"/>
<line x1="55.80" y1="458.00" x2="61.60" y2="446.40" stroke="#231f20" stroke-width="0.9"/>
<text x="126.60" y="417.60" font-size="6.6" text-anchor="middle" fill="#231f20">Vehicle, AZD5069, ISO-1, or</text>
<text x="125.40" y="424.40" font-size="6.6" text-anchor="middle" fill="#231f20">AZD5069 + ISO-1 5×/wk</text>
<line x1="79.40" y1="428.20" x2="169.50" y2="428.20" stroke="#231f20" stroke-width="1.1"/>
<polygon points="168.4,425.8 168.4,430.6 173.0,428.2" fill="#231f20"/>
<text x="105.00" y="466.80" font-size="6.6" fill="#231f20">Quantify macrophages</text>
<text x="105.00" y="474.20" font-size="6.6" fill="#231f20">and metastases</text>
<line x1="174.40" y1="466.60" x2="174.40" y2="459.40" stroke="#231f20" stroke-width="1.1"/>
<polygon points="172.0,460.6 176.8,460.6 174.4,455.8" fill="#231f20"/>
</g>
<g id="panelH">
<text x="191.80" y="355.05" font-size="10.1" font-weight="bold" fill="#231f20">H</text>
<line x1="221.10" y1="361.15" x2="221.10" y2="440.55" stroke="#231f20" stroke-width="1.3"/>
<line x1="217.75" y1="439.90" x2="221.10" y2="439.90" stroke="#231f20" stroke-width="1.3"/>
<text x="214.15" y="442.42" font-size="7.0" text-anchor="end" fill="#231f20">0</text>
<line x1="217.75" y1="424.28" x2="221.10" y2="424.28" stroke="#231f20" stroke-width="1.3"/>
<text x="214.15" y="426.80" font-size="7.0" text-anchor="end" fill="#231f20">20</text>
<line x1="217.75" y1="408.66" x2="221.10" y2="408.66" stroke="#231f20" stroke-width="1.3"/>
<text x="214.15" y="411.18" font-size="7.0" text-anchor="end" fill="#231f20">40</text>
<line x1="217.75" y1="393.04" x2="221.10" y2="393.04" stroke="#231f20" stroke-width="1.3"/>
<text x="214.15" y="395.56" font-size="7.0" text-anchor="end" fill="#231f20">60</text>
<line x1="217.75" y1="377.42" x2="221.10" y2="377.42" stroke="#231f20" stroke-width="1.3"/>
<text x="214.15" y="379.94" font-size="7.0" text-anchor="end" fill="#231f20">80</text>
<line x1="217.75" y1="361.80" x2="221.10" y2="361.80" stroke="#231f20" stroke-width="1.3"/>
<text x="214.15" y="364.32" font-size="7.0" text-anchor="end" fill="#231f20">100</text>
<line x1="220.45" y1="439.90" x2="295.70" y2="439.90" stroke="#231f20" stroke-width="1.3"/>
<line x1="232.40" y1="439.90" x2="232.40" y2="443.15" stroke="#231f20" stroke-width="1.3"/>
<line x1="249.70" y1="439.90" x2="249.70" y2="443.15" stroke="#231f20" stroke-width="1.3"/>
<line x1="267.00" y1="439.90" x2="267.00" y2="443.15" stroke="#231f20" stroke-width="1.3"/>
<line x1="284.30" y1="439.90" x2="284.30" y2="443.15" stroke="#231f20" stroke-width="1.3"/>
<rect x="226.80" y="382.90" width="11.20" height="57.00" fill="#5cb947"/>
<line x1="232.40" y1="378.60" x2="232.40" y2="386.80" stroke="#231f20" stroke-width="1.1"/>
<line x1="229.40" y1="378.60" x2="235.40" y2="378.60" stroke="#231f20" stroke-width="1.1"/>
<line x1="229.40" y1="386.80" x2="235.40" y2="386.80" stroke="#231f20" stroke-width="1.1"/>
<rect x="244.10" y="413.20" width="11.20" height="26.70" fill="#ee3124"/>
<line x1="249.70" y1="411.30" x2="249.70" y2="415.00" stroke="#231f20" stroke-width="1.1"/>
<line x1="246.70" y1="411.30" x2="252.70" y2="411.30" stroke="#231f20" stroke-width="1.1"/>
<line x1="246.70" y1="415.00" x2="252.70" y2="415.00" stroke="#231f20" stroke-width="1.1"/>
<rect x="261.40" y="414.20" width="11.20" height="25.70" fill="#f7931e"/>
<line x1="267.00" y1="411.00" x2="267.00" y2="417.30" stroke="#231f20" stroke-width="1.1"/>
<line x1="264.00" y1="411.00" x2="270.00" y2="411.00" stroke="#231f20" stroke-width="1.1"/>
<line x1="264.00" y1="417.30" x2="270.00" y2="417.30" stroke="#231f20" stroke-width="1.1"/>
<rect x="278.70" y="422.40" width="11.20" height="17.50" fill="#b7539f"/>
<line x1="284.30" y1="420.00" x2="284.30" y2="424.00" stroke="#231f20" stroke-width="1.1"/>
<line x1="281.30" y1="420.00" x2="287.30" y2="420.00" stroke="#231f20" stroke-width="1.1"/>
<line x1="281.30" y1="424.00" x2="287.30" y2="424.00" stroke="#231f20" stroke-width="1.1"/>
<circle cx="233.20" cy="373.90" r="1.6" fill="#231f20"/>
<circle cx="234.40" cy="379.00" r="1.6" fill="#231f20"/>
<circle cx="234.20" cy="388.70" r="1.6" fill="#231f20"/>
<circle cx="229.50" cy="391.60" r="1.6" fill="#231f20"/>
<polygon points="248.80,409.07 247.10,412.13 250.50,412.13" fill="#231f20"/>
<polygon points="253.10,410.27 251.40,413.33 254.80,413.33" fill="#231f20"/>
<polygon points="249.70,414.27 248.00,417.33 251.40,417.33" fill="#231f20"/>
<polygon points="251.00,411.87 249.30,414.93 252.70,414.93" fill="#231f20"/>
<rect x="267.95" y="406.95" width="3.1" height="3.1" fill="#231f20"/>
<rect x="263.35" y="411.15" width="3.1" height="3.1" fill="#231f20"/>
<rect x="264.35" y="417.75" width="3.1" height="3.1" fill="#231f20"/>
<rect x="266.45" y="414.05" width="3.1" height="3.1" fill="#231f20"/>
<circle cx="281.40" cy="419.60" r="1.6" fill="#231f20"/>
<circle cx="285.70" cy="421.50" r="1.6" fill="#231f20"/>
<circle cx="288.00" cy="422.40" r="1.6" fill="#231f20"/>
<circle cx="284.50" cy="426.20" r="1.6" fill="#231f20"/>
<polyline points="233.30,371.00 233.30,358.40 284.20,358.40 284.20,364.20" fill="none" stroke="#414042" stroke-width="0.8"/>
<polyline points="233.30,367.00 272.40,367.00 272.40,373.10" fill="none" stroke="#414042" stroke-width="0.8"/>
<line x1="250.50" y1="367.00" x2="250.50" y2="373.10" stroke="#414042" stroke-width="0.8"/>
<polyline points="258.50,398.40 258.50,390.10 285.10,390.10 285.10,396.20" fill="none" stroke="#414042" stroke-width="0.8"/>
<polyline points="248.50,403.90 248.50,398.40 264.60,398.40 264.60,403.90" fill="none" stroke="#414042" stroke-width="0.8"/>
<text x="259.00" y="359.00" font-size="7.0" text-anchor="middle" fill="#231f20">*****</text>
<text x="256.00" y="368.00" font-size="7.0" text-anchor="middle" fill="#231f20">***</text>
<text x="271.80" y="391.10" font-size="7.0" text-anchor="middle" fill="#231f20">*</text>
<text x="197.80" y="400.50" font-size="7.2" text-anchor="middle" transform="rotate(-90 197.80 400.50)" fill="#231f20">F4/80<tspan font-size="4.46" dy="-2.59">+</tspan><tspan dy="2.59"> cells per 20× field</tspan></text>
<text x="234.00" y="450.30" font-size="7.5" text-anchor="end" transform="rotate(-45 234.00 450.30)" fill="#231f20">Vehicle</text>
<text x="250.60" y="450.50" font-size="7.5" text-anchor="end" transform="rotate(-45 250.60 450.50)" fill="#231f20">AZD5069</text>
<text x="269.10" y="450.20" font-size="7.5" text-anchor="end" transform="rotate(-45 269.10 450.20)" fill="#231f20">ISO-1</text>
<text x="287.40" y="450.90" font-size="7.5" text-anchor="end" transform="rotate(-45 287.40 450.90)" fill="#231f20">AZD5069</text>
<text x="289.80" y="462.30" font-size="7.5" text-anchor="end" transform="rotate(-45 289.80 462.30)" fill="#231f20">+ ISO-1</text>
</g>
<g id="panelI">
<text x="303.10" y="353.55" font-size="10.1" font-weight="bold" fill="#231f20">I</text>
<line x1="329.40" y1="364.05" x2="329.40" y2="442.95" stroke="#231f20" stroke-width="1.3"/>
<line x1="326.05" y1="442.30" x2="329.40" y2="442.30" stroke="#231f20" stroke-width="1.3"/>
<text x="322.85" y="444.82" font-size="7.0" text-anchor="end" fill="#231f20">0</text>
<line x1="326.05" y1="422.90" x2="329.40" y2="422.90" stroke="#231f20" stroke-width="1.3"/>
<text x="322.85" y="425.42" font-size="7.0" text-anchor="end" fill="#231f20">20</text>
<line x1="326.05" y1="403.50" x2="329.40" y2="403.50" stroke="#231f20" stroke-width="1.3"/>
<text x="322.85" y="406.02" font-size="7.0" text-anchor="end" fill="#231f20">40</text>
<line x1="326.05" y1="384.10" x2="329.40" y2="384.10" stroke="#231f20" stroke-width="1.3"/>
<text x="322.85" y="386.62" font-size="7.0" text-anchor="end" fill="#231f20">60</text>
<line x1="326.05" y1="364.70" x2="329.40" y2="364.70" stroke="#231f20" stroke-width="1.3"/>
<text x="322.85" y="367.22" font-size="7.0" text-anchor="end" fill="#231f20">80</text>
<line x1="328.75" y1="442.30" x2="407.50" y2="442.30" stroke="#231f20" stroke-width="1.3"/>
<line x1="341.50" y1="442.30" x2="341.50" y2="445.55" stroke="#231f20" stroke-width="1.3"/>
<line x1="359.60" y1="442.30" x2="359.60" y2="445.55" stroke="#231f20" stroke-width="1.3"/>
<line x1="377.60" y1="442.30" x2="377.60" y2="445.55" stroke="#231f20" stroke-width="1.3"/>
<line x1="395.70" y1="442.30" x2="395.70" y2="445.55" stroke="#231f20" stroke-width="1.3"/>
<rect x="335.70" y="380.80" width="11.60" height="61.50" fill="#5cb947"/>
<line x1="341.50" y1="375.90" x2="341.50" y2="385.40" stroke="#231f20" stroke-width="1.1"/>
<line x1="338.50" y1="375.90" x2="344.50" y2="375.90" stroke="#231f20" stroke-width="1.1"/>
<line x1="338.50" y1="385.40" x2="344.50" y2="385.40" stroke="#231f20" stroke-width="1.1"/>
<rect x="353.80" y="417.40" width="11.60" height="24.90" fill="#ee3124"/>
<line x1="359.60" y1="414.50" x2="359.60" y2="420.00" stroke="#231f20" stroke-width="1.1"/>
<line x1="356.60" y1="414.50" x2="362.60" y2="414.50" stroke="#231f20" stroke-width="1.1"/>
<line x1="356.60" y1="420.00" x2="362.60" y2="420.00" stroke="#231f20" stroke-width="1.1"/>
<rect x="371.80" y="419.20" width="11.60" height="23.10" fill="#f7931e"/>
<line x1="377.60" y1="416.30" x2="377.60" y2="422.40" stroke="#231f20" stroke-width="1.1"/>
<line x1="374.60" y1="416.30" x2="380.60" y2="416.30" stroke="#231f20" stroke-width="1.1"/>
<line x1="374.60" y1="422.40" x2="380.60" y2="422.40" stroke="#231f20" stroke-width="1.1"/>
<rect x="389.90" y="433.40" width="11.60" height="8.90" fill="#b7539f"/>
<line x1="395.70" y1="431.60" x2="395.70" y2="435.00" stroke="#231f20" stroke-width="1.1"/>
<line x1="392.70" y1="431.60" x2="398.70" y2="431.60" stroke="#231f20" stroke-width="1.1"/>
<line x1="392.70" y1="435.00" x2="398.70" y2="435.00" stroke="#231f20" stroke-width="1.1"/>
<circle cx="342.40" cy="371.50" r="1.6" fill="#231f20"/>
<circle cx="339.80" cy="375.80" r="1.6" fill="#231f20"/>
<circle cx="341.20" cy="385.40" r="1.6" fill="#231f20"/>
<circle cx="343.10" cy="391.40" r="1.6" fill="#231f20"/>
<polygon points="359.50,412.27 357.80,415.33 361.20,415.33" fill="#231f20"/>
<polygon points="357.20,416.17 355.50,419.23 358.90,419.23" fill="#231f20"/>
<polygon points="362.60,416.67 360.90,419.73 364.30,419.73" fill="#231f20"/>
<polygon points="359.50,422.27 357.80,425.33 361.20,425.33" fill="#231f20"/>
<rect x="375.95" y="410.75" width="3.1" height="3.1" fill="#231f20"/>
<rect x="373.35" y="418.45" width="3.1" height="3.1" fill="#231f20"/>
<rect x="377.55" y="419.25" width="3.1" height="3.1" fill="#231f20"/>
<rect x="373.65" y="423.45" width="3.1" height="3.1" fill="#231f20"/>
<circle cx="395.50" cy="431.20" r="1.6" fill="#231f20"/>
<circle cx="392.50" cy="433.80" r="1.6" fill="#231f20"/>
<circle cx="398.30" cy="433.80" r="1.6" fill="#231f20"/>
<circle cx="395.50" cy="435.40" r="1.6" fill="#231f20"/>
<polyline points="341.00,367.00 341.00,352.60 391.50,352.60 391.50,358.50" fill="none" stroke="#414042" stroke-width="0.8"/>
<polyline points="341.00,360.00 380.00,360.00 380.00,366.00" fill="none" stroke="#414042" stroke-width="0.8"/>
<line x1="357.80" y1="360.00" x2="357.80" y2="366.00" stroke="#414042" stroke-width="0.8"/>
<polyline points="367.70,392.30 367.70,383.80 395.40,383.80 395.40,389.60" fill="none" stroke="#414042" stroke-width="0.8"/>
<polyline points="355.70,397.70 355.70,392.30 377.50,392.30 377.50,397.70" fill="none" stroke="#414042" stroke-width="0.8"/>
<text x="366.50" y="353.00" font-size="7.0" text-anchor="middle" fill="#231f20">*****</text>
<text x="361.50" y="361.00" font-size="7.0" text-anchor="middle" fill="#231f20">****</text>
<text x="382.00" y="384.60" font-size="7.0" text-anchor="middle" fill="#231f20">***</text>
<text x="309.50" y="403.60" font-size="7.1" text-anchor="middle" transform="rotate(-90 309.50 403.60)" fill="#231f20">CD206<tspan font-size="4.40" dy="-2.56">+</tspan><tspan dy="2.56"> cells per 20× field</tspan></text>
<text x="343.50" y="453.50" font-size="7.5" text-anchor="end" transform="rotate(-45 343.50 453.50)" fill="#231f20">Vehicle</text>
<text x="359.80" y="454.10" font-size="7.5" text-anchor="end" transform="rotate(-45 359.80 454.10)" fill="#231f20">AZD5069</text>
<text x="378.20" y="453.50" font-size="7.5" text-anchor="end" transform="rotate(-45 378.20 453.50)" fill="#231f20">ISO-1</text>
<text x="397.10" y="454.30" font-size="7.5" text-anchor="end" transform="rotate(-45 397.10 454.30)" fill="#231f20">AZD5069</text>
<text x="399.00" y="464.00" font-size="7.5" text-anchor="end" transform="rotate(-45 399.00 464.00)" fill="#231f20">+ ISO-1</text>
</g>
<g id="panelJ">
<text x="409.30" y="351.95" font-size="10.1" font-weight="bold" fill="#231f20">J</text>
<line x1="438.20" y1="359.55" x2="438.20" y2="443.05" stroke="#231f20" stroke-width="1.3"/>
<line x1="434.65" y1="442.40" x2="438.20" y2="442.40" stroke="#231f20" stroke-width="1.3"/>
<text x="431.25" y="444.92" font-size="7.0" text-anchor="end" fill="#231f20">0</text>
<line x1="434.65" y1="421.85" x2="438.20" y2="421.85" stroke="#231f20" stroke-width="1.3"/>
<text x="431.25" y="424.37" font-size="7.0" text-anchor="end" fill="#231f20">5</text>
<line x1="434.65" y1="401.30" x2="438.20" y2="401.30" stroke="#231f20" stroke-width="1.3"/>
<text x="431.25" y="403.82" font-size="7.0" text-anchor="end" fill="#231f20">10</text>
<line x1="434.65" y1="380.75" x2="438.20" y2="380.75" stroke="#231f20" stroke-width="1.3"/>
<text x="431.25" y="383.27" font-size="7.0" text-anchor="end" fill="#231f20">15</text>
<line x1="434.65" y1="360.20" x2="438.20" y2="360.20" stroke="#231f20" stroke-width="1.3"/>
<text x="431.25" y="362.72" font-size="7.0" text-anchor="end" fill="#231f20">20</text>
<line x1="437.55" y1="442.40" x2="520.00" y2="442.40" stroke="#231f20" stroke-width="1.3"/>
<line x1="450.50" y1="442.40" x2="450.50" y2="445.65" stroke="#231f20" stroke-width="1.3"/>
<line x1="469.40" y1="442.40" x2="469.40" y2="445.65" stroke="#231f20" stroke-width="1.3"/>
<line x1="488.50" y1="442.40" x2="488.50" y2="445.65" stroke="#231f20" stroke-width="1.3"/>
<line x1="507.30" y1="442.40" x2="507.30" y2="445.65" stroke="#231f20" stroke-width="1.3"/>
<rect x="444.10" y="393.10" width="12.80" height="49.30" fill="#5cb947"/>
<line x1="450.50" y1="386.30" x2="450.50" y2="400.30" stroke="#231f20" stroke-width="1.1"/>
<line x1="447.20" y1="386.30" x2="453.80" y2="386.30" stroke="#231f20" stroke-width="1.1"/>
<line x1="447.20" y1="400.30" x2="453.80" y2="400.30" stroke="#231f20" stroke-width="1.1"/>
<rect x="463.00" y="426.20" width="12.80" height="16.20" fill="#ee3124"/>
<line x1="469.40" y1="421.30" x2="469.40" y2="431.00" stroke="#231f20" stroke-width="1.1"/>
<line x1="466.10" y1="421.30" x2="472.70" y2="421.30" stroke="#231f20" stroke-width="1.1"/>
<line x1="466.10" y1="431.00" x2="472.70" y2="431.00" stroke="#231f20" stroke-width="1.1"/>
<rect x="482.10" y="422.20" width="12.80" height="20.20" fill="#f7931e"/>
<line x1="488.50" y1="417.30" x2="488.50" y2="427.30" stroke="#231f20" stroke-width="1.1"/>
<line x1="485.20" y1="417.30" x2="491.80" y2="417.30" stroke="#231f20" stroke-width="1.1"/>
<line x1="485.20" y1="427.30" x2="491.80" y2="427.30" stroke="#231f20" stroke-width="1.1"/>
<circle cx="451.50" cy="372.70" r="1.6" fill="#231f20"/>
<circle cx="450.60" cy="394.00" r="1.6" fill="#231f20"/>
<circle cx="446.50" cy="405.00" r="1.6" fill="#231f20"/>
<circle cx="455.30" cy="402.40" r="1.6" fill="#231f20"/>
<polygon points="469.90,412.87 468.20,415.93 471.60,415.93" fill="#231f20"/>
<polygon points="465.10,433.67 463.40,436.73 466.80,436.73" fill="#231f20"/>
<polygon points="474.00,433.67 472.30,436.73 475.70,436.73" fill="#231f20"/>
<polygon points="469.60,427.47 467.90,430.53 471.30,430.53" fill="#231f20"/>
<rect x="482.55" y="412.25" width="3.1" height="3.1" fill="#231f20"/>
<rect x="490.95" y="412.55" width="3.1" height="3.1" fill="#231f20"/>
<rect x="489.05" y="425.05" width="3.1" height="3.1" fill="#231f20"/>
<rect x="486.95" y="433.55" width="3.1" height="3.1" fill="#231f20"/>
<circle cx="503.90" cy="441.10" r="1.25" fill="#231f20"/>
<circle cx="507.30" cy="441.10" r="1.25" fill="#231f20"/>
<circle cx="510.80" cy="441.10" r="1.25" fill="#231f20"/>
<circle cx="514.30" cy="441.10" r="1.25" fill="#231f20"/>
<polyline points="451.50,368.20 451.50,354.20 513.00,354.20 513.00,359.80" fill="none" stroke="#414042" stroke-width="0.8"/>
<polyline points="451.50,362.30 491.20,362.30 491.20,368.60" fill="none" stroke="#414042" stroke-width="0.8"/>
<line x1="468.80" y1="362.30" x2="468.80" y2="368.60" stroke="#414042" stroke-width="0.8"/>
<polyline points="488.50,397.60 488.50,391.50 513.20,391.50 513.20,397.60" fill="none" stroke="#414042" stroke-width="0.8"/>
<polyline points="468.80,407.60 468.80,402.00 513.20,402.00 513.20,407.60" fill="none" stroke="#414042" stroke-width="0.8"/>
<text x="485.30" y="354.00" font-size="7.0" text-anchor="middle" fill="#231f20">****</text>
<text x="470.00" y="362.90" font-size="7.0" text-anchor="middle" fill="#231f20">**</text>
<text x="501.20" y="391.60" font-size="7.0" text-anchor="middle" fill="#231f20">***</text>
<text x="496.90" y="401.60" font-size="7.0" text-anchor="middle" fill="#231f20">**</text>
<text x="419.30" y="401.80" font-size="7.0" text-anchor="middle" transform="rotate(-90 419.30 401.80)" fill="#231f20">Total metastases</text>
<text x="452.20" y="453.60" font-size="7.5" text-anchor="end" transform="rotate(-45 452.20 453.60)" fill="#231f20">Vehicle</text>
<text x="470.00" y="453.80" font-size="7.5" text-anchor="end" transform="rotate(-45 470.00 453.80)" fill="#231f20">AZD5069</text>
<text x="488.80" y="453.60" font-size="7.5" text-anchor="end" transform="rotate(-45 488.80 453.60)" fill="#231f20">ISO-1</text>
<text x="510.70" y="454.20" font-size="7.5" text-anchor="end" transform="rotate(-45 510.70 454.20)" fill="#231f20">AZD5069</text>
<text x="513.60" y="464.40" font-size="7.5" text-anchor="end" transform="rotate(-45 513.60 464.40)" fill="#231f20">+ ISO-1</text>
</g>
</svg>
</body>
</html>
